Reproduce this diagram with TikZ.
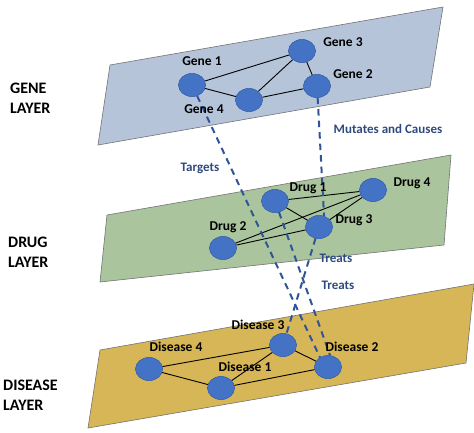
\documentclass[tikz,border=0pt]{standalone}
\usepackage{fontspec}
\setmainfont{Carlito}
\usetikzlibrary{shapes.geometric}
\definecolor{geneplane}{HTML}{B6C4D9}
\definecolor{drugplane}{HTML}{AAC49D}
\definecolor{displane}{HTML}{D6B656}
\definecolor{nodeblue}{HTML}{4472C4}
\definecolor{dashblue}{HTML}{2F5597}
\definecolor{rellabel}{HTML}{2E4A7D}
\tikzset{
  plane/.style={draw=black!55, line width=0.6pt},
  ent/.style={ellipse, fill=nodeblue, draw=nodeblue!85!black, line width=0.4pt,
    minimum width=27pt, minimum height=23pt, inner sep=0pt},
  entfill/.style={fill=nodeblue, draw=nodeblue!85!black, line width=0.4pt},
  lbl/.style={font=\fontsize{13.5}{15}\selectfont\bfseries, text=black, inner sep=1pt},
  layerlbl/.style={font=\fontsize{16}{20}\selectfont\bfseries, align=left, anchor=west, inner sep=0pt},
  rel/.style={font=\fontsize{13}{15}\selectfont\bfseries, text=rellabel, inner sep=1pt},
  link/.style={draw=black, line width=0.9pt},
  cross/.style={draw=dashblue, line width=2pt, dash pattern=on 6.5pt off 5pt}
}
\begin{document}
\begin{tikzpicture}[x=1pt,y=-1pt]
\useasboundingbox (0,0) rectangle (474,432);
% planes
\draw[plane, fill=geneplane] (110,65) -- (443,7) -- (430,87) -- (98,145) -- cycle;
\draw[plane, fill=drugplane] (107,215) -- (451,155) -- (444,245) -- (100,282) -- cycle;
\draw[plane, fill=displane] (100,350) -- (474,284) -- (466,363) -- (88,428) -- cycle;
% layer labels
\node[layerlbl] (lg) at (10,98) {GENE\\LAYER};
\node[layerlbl] (ld) at (8,252) {DRUG\\LAYER};
\node[layerlbl] (ls) at (3,395) {DISEASE\\LAYER};
% entity nodes
\node[ent] (g1) at (192,85) {};
\node[ent] (g3) at (302,51) {};
\node[ent] (g2) at (317,86) {};
\node[ent] (g4) at (249,100) {};
\node[ent] (d1) at (275,201) {};
\node[ent] (d4) at (373,190) {};
\node[ent] (d3) at (319,227) {};
\node[ent] (d2) at (223,248) {};
\node[ent] (s4) at (149,369) {};
\node[ent] (s1) at (221,388) {};
\node[ent] (s3) at (283,345) {};
\node[ent] (s2) at (328,367) {};
% in-layer links
\draw[link] (g1) -- (g3);
\draw[link] (g1) -- (g4);
\draw[link] (g4) -- (g3);
\draw[link] (g4) -- (g2);
\draw[link] (g3) -- (g2);
\draw[link] (d1) -- (d4);
\draw[link] (d1) -- (d3);
\draw[link] (d2) -- (d4);
\draw[link] (d2) -- (d3);
\draw[link] (d3) -- (d4);
\draw[link] (s4) -- (s3);
\draw[link] (s4) -- (s1);
\draw[link] (s1) -- (s3);
\draw[link] (s3) -- (s2);
\draw[link] (s1) -- (s2);
% cross-layer dashed links
\draw[cross] (g1) -- (s2.130);
\draw[cross] (g2) -- (d3.65);
\draw[cross] (d1) -- (s2.80);
\draw[cross] (d3) -- (s3);
% redraw nodes on top
\foreach \n in {g1,g2,g3,g4,d1,d2,d3,d4,s1,s2,s3,s4}
  \path[entfill] (\n.center) ellipse (13.5pt and 11.5pt);
% entity labels
\node[lbl] (tg1) at (202,61) {Gene 1};
\node[lbl] (tg3) at (343,42) {Gene 3};
\node[lbl] (tg2) at (353,74) {Gene 2};
\node[lbl] (tg4) at (204,109) {Gene 4};
\node[lbl] (td1) at (308,188) {Drug 1};
\node[lbl] (td4) at (412,183) {Drug 4};
\node[lbl] (td3) at (354,220) {Drug 3};
\node[lbl] (td2) at (228,227) {Drug 2};
\node[lbl] (ts4) at (176,347) {Disease 4};
\node[lbl] (ts1) at (245,367) {Disease 1};
\node[lbl] (ts3) at (258,325) {Disease 3};
\node[lbl] (ts2) at (352,347) {Disease 2};
% relation labels
\node[rel] (r1) at (200,168) {Targets};
\node[rel] (r2) at (388,129) {Mutates and Causes};
\node[rel] (r3) at (336,258) {Treats};
\node[rel] (r4) at (338,285) {Treats};
\end{tikzpicture}
\end{document}
